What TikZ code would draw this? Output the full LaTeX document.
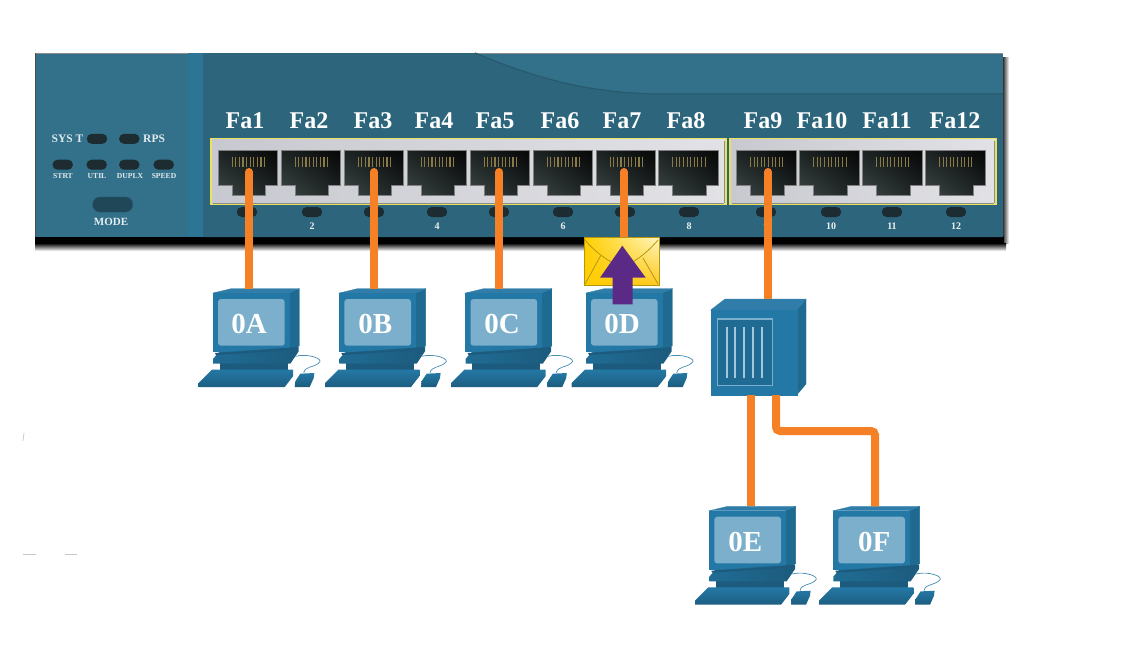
\documentclass[tikz,border=0pt]{standalone}
\usepackage{fontspec}
\setmainfont{Liberation Serif}
\usetikzlibrary{calc,shadings}
\definecolor{bodyblue}{HTML}{33708A}
\definecolor{lowblue}{HTML}{2D667C}
\definecolor{bandblue}{HTML}{2C7595}
\definecolor{ledcol}{HTML}{1C2C31}
\definecolor{cablecol}{HTML}{F58025}
\definecolor{pcfront}{HTML}{2478A5}
\definecolor{pcside}{HTML}{1E6A90}
\definecolor{pctop}{HTML}{2F7DA8}
\definecolor{pcscreen}{HTML}{7BAFCB}
\definecolor{pcdark}{HTML}{1C5B7D}
\definecolor{purplearrow}{HTML}{5B2A86}
\definecolor{envgold}{HTML}{FFCE00}
\definecolor{envdeep}{HTML}{FFC81E}
\definecolor{envpale}{HTML}{FFF6C4}
\definecolor{envline}{HTML}{B8960C}
\definecolor{portlit}{HTML}{3C4746}
\definecolor{portmid}{HTML}{1C2222}
\definecolor{portdark}{HTML}{060606}
\definecolor{pincol}{HTML}{8A7A45}
\definecolor{panelleft}{HTML}{C8C9D0}
\definecolor{panelright}{HTML}{E2E2E6}
\definecolor{panelline}{HTML}{E9E35C}
\newcommand{\fsz}[1]{\fontsize{#1}{#1}\selectfont\bfseries}
\tikzset{
  led/.style={rectangle,rounded corners=5pt,minimum width=20.5pt,minimum height=10pt,inner sep=0pt,fill=ledcol},
  cable/.style={draw=cablecol,line width=8pt},
  plug/.style={circle,fill=cablecol,minimum size=8pt,inner sep=0pt},
  falabel/.style={text=white,font=\fsz{24},inner sep=0pt},
  numlabel/.style={text=white!90!bodyblue,font=\fsz{10},inner sep=0pt},
  ledlabel/.style={text=white!85!bodyblue,font=\fsz{7.6},inner sep=0pt},
  sidelabel/.style={text=white!85!bodyblue,inner sep=0pt},
  pclabel/.style={text=white,font=\fsz{29},inner sep=0pt},
  panel/.style={draw=panelline,line width=1.4pt},
  solid fill/.style={fill=#1,draw=#1,line width=.3pt}
}
% #1 name, #2 x, #3 y, #4 label, #5 label x offset
\newcommand{\computer}[5]{%
  \begin{scope}[shift={(#2,#3)}]
    \path[solid fill=pcside] (76,0) -- (86.3,-4.3) -- (86.3,53) -- (76,58.5) -- cycle;
    \path[solid fill=pctop] (0,0) -- (18,-4.3) -- (86.3,-4.3) -- (76,0) -- cycle;
    \path[solid fill=pcfront] (0,0) rectangle (76,58.5);
    \fill[pcscreen,rounded corners=3pt] (5,6) rectangle (71.7,52.7);
    \fill[pcdark] (6.7,70) rectangle (74.7,77.5);
    \shade[left color=pcfront!90!black,right color=pcdark] (0,70.7) -- (0,66) -- (5.7,59.3) -- (85.7,54) -- (85.7,58.3) -- (77.3,70.7) -- cycle;
    \fill[pcdark] (2,60) -- (84,55) -- (83,57) -- (3,62) -- cycle;
    \shade[top color=pcfront,bottom color=pcdark!90!pcfront] (-14.3,94) -- (-14.3,90) -- (-1,76.7) -- (80,76.7) -- (80,83.3) -- (71.7,94) -- cycle;
    \draw[pcfront!85!white,line width=.7pt] (82.3,63.3) .. controls (95,60) and (112,66) .. (105.7,70) .. controls (100,75) and (92,73) .. (90.7,80);
    \shade[top color=pcfront,bottom color=pcdark] (81.7,94) -- (82.3,88.3) -- (87.3,80.7) -- (101.3,80) -- (100.7,85) -- (96.7,94) -- cycle;
    \node[minimum width=86.3pt,minimum height=62.8pt,inner sep=0pt] (pc#1) at (43.15,27.1) {};
    \node[pclabel] (lab#1) at (#5,31) {#4};
  \end{scope}}
\begin{document}
\begin{tikzpicture}[x=1pt,y=-1pt]
\useasboundingbox (0,0) rectangle (1129,649);
\fill[white] (0,0) rectangle (1129,649);
% faint specks
\draw[black!22,line width=.7pt] (24,433) -- (23,441) (23,554.5) -- (36,554.5) (65,554.5) -- (77,554.5);
% switch shadow
\shade[left color=black!80,right color=white] (1003,57) rectangle (1009,243);
\shade[top color=black,bottom color=white] (35,243) rectangle (1006,251);
\fill[black] (35,236) rectangle (1003.5,243);
% switch body
\fill[bodyblue] (35,53) rectangle (1003,237);
\draw[black!45,line width=.8pt] (35,53) -- (1003,53);
\draw[black!70,line width=.8pt] (35,53) -- (35,237);
\fill[lowblue] (202,53) -- (475,53) .. controls (540,80) and (590,93) .. (660,94) -- (1003,94) -- (1003,237) -- (202,237) -- cycle;
\draw[black!12!lowblue,line width=1.2pt] (475,53) .. controls (540,80) and (590,93) .. (660,94) -- (1003,94);
\fill[bandblue] (188,53) rectangle (202.5,237);
% status LEDs
\node[led] (ledsyst) at (97,138.8) {};
\node[led] (ledrps) at (129.3,138.8) {};
\node[led] (ledstrt) at (62.7,164.7) {};
\node[led] (ledutil) at (96.7,164.7) {};
\node[led] (leddup) at (129.3,164.7) {};
\node[led] (ledspd) at (163.7,164.7) {};
\node[sidelabel,font=\fsz{11.5},anchor=east] (tsyst) at (83.5,139) {SYS T};
\node[sidelabel,font=\fsz{11.5},anchor=west] (trps) at (143,139) {RPS};
\node[ledlabel] (tstrt) at (63,176.5) {STRT};
\node[ledlabel] (tutil) at (97,176.5) {UTIL};
\node[ledlabel] (tdup) at (130,176.5) {DUPLX};
\node[ledlabel] (tspd) at (164,176.5) {SPEED};
\node[rectangle,rounded corners=7pt,minimum width=40pt,minimum height=15pt,inner sep=0pt,fill=black!30!lowblue,draw=black!15!lowblue] (mode) at (112.7,204.5) {};
\node[sidelabel,font=\fsz{11},text=white!88!bodyblue] (tmode) at (111,221.5) {MODE};
% port panels
\shade[left color=panelleft,right color=panelright] (211,138.5) rectangle (726,204.5);
\draw[panel] (211,138.5) rectangle (726,204.5);
\shade[left color=panelleft,right color=panelright] (730,138.5) rectangle (996,204.5);
\draw[panel] (730,138.5) rectangle (996,204.5);
\draw[black!45,line width=.8pt] (213,203) -- (724,203) (732,203) -- (994,203) (724,141) -- (724,203) (994,141) -- (994,203);
% ports
\foreach \n/\x in {1/218,2/281,3/344,4/407,5/470,6/533,7/596,8/658.5,9/736.3,10/799.5,11/862.3,12/925.3}{
  \shade[lower left=portlit,upper left=portmid,upper right=portdark,lower right=portmid,draw=black!50,line width=.5pt]
    (\x,150) -- (\x+59.6,150) -- (\x+59.6,185.7) -- (\x+47.5,185.7) -- (\x+47.5,195) -- (\x+14,195) -- (\x+14,185.7) -- (\x,185.7) -- cycle;
  \foreach \k in {0,...,9}{
    \draw[pincol,line width=1.1pt] (\x+14.2+\k*3.6,156.7) -- (\x+14.2+\k*3.6,167.3);
  }
}
% port LEDs and numbers
\foreach \n/\x in {1/247,2/312,3/374,4/437,5/499,6/563,7/625,8/689,9/766,10/831,11/892,12/956}{
  \node[led] (pled\n) at (\x,212) {};
}
\foreach \n/\x in {2/312,4/437,6/563,8/689,9/766,10/831,11/892,12/956}{
  \node[numlabel] (pnum\n) at (\x,226) {\n};
}
% Fa labels
\foreach \n/\x in {1/245,2/309,3/373,4/434,5/495,6/560,7/622,8/686,9/763,10/822,11/887,12/955}{
  \node[falabel] (fa\n) at (\x,121) {Fa\n};
}
% computers
\computer{A}{213}{293}{0A}{36}
\computer{B}{339.3}{293}{0B}{36}
\computer{C}{465.5}{293}{0C}{36.5}
\computer{D}{586}{293}{0D}{36}
\computer{E}{709.3}{510.7}{0E}{36}
\computer{F}{833.3}{510.7}{0F}{41}
% hub
\path[solid fill=pcside] (796.7,310) -- (806,299) -- (806,384) -- (796.7,395) -- cycle;
\path[solid fill=pctop] (710.7,310) -- (725,299) -- (806,299) -- (796.7,310) -- cycle;
\path[solid fill=pcfront] (710.7,310) rectangle (796.7,395);
\fill[pcfront!55!pcdark] (717.3,319) rectangle (772.3,385.7);
\draw[pcscreen,line width=1.1pt] (717.3,319) rectangle (772.3,385.7);
\foreach \x in {726.7,735.3,744,752.7,761.7}{
  \draw[pcscreen!70!white,line width=1.7pt] (\x,326.7) -- (\x,378);
}
\node[minimum width=95.3pt,minimum height=96pt,inner sep=0pt] (hub) at (758.35,347) {};
% connectors
\node[plug] (plug1) at (249,172) {};
\node[plug] (plug3) at (374,172) {};
\node[plug] (plug5) at (499,172) {};
\node[plug] (plug7) at (624,172) {};
\node[plug] (plug9) at (768,172) {};
\draw[cable] (plug1.center) -- (plug1 |- pcA.north);
\draw[cable] (plug3.center) -- (plug3 |- pcB.north);
\draw[cable] (plug5.center) -- (plug5 |- pcC.north);
\draw[cable] (plug7.center) -- (plug7 |- pcD.north);
\draw[cable] (plug9.center) -- (plug9 |- hub.north);
\coordinate (hubE) at (751,395);
\coordinate (hubF) at (776,395);
\draw[cable] (hubE) -- (hubE |- pcE.north);
\draw[cable,rounded corners=4pt] (hubF) -- (776,431) -- (875,431) -- (875,506.4);
% envelope
\shade[lower left=envgold,upper left=envgold,upper right=envpale,lower right=envdeep,draw=envline,line width=.7pt] (584,237.5) rectangle (659,285);
\draw[envline,line width=.8pt] (585,240) .. controls (595,252) and (610,263) .. (622,267) .. controls (634,263) and (648,252) .. (658,240)
  (585,284) -- (600.5,256) (658,284) -- (643,258);
% arrow
\fill[purplearrow] (622.3,245.7) -- (645.7,277.7) -- (632.7,277.7) -- (632.7,304.3) -- (612.7,304.3) -- (612.7,277.7) -- (600,277.7) -- cycle;
\end{tikzpicture}
\end{document}
